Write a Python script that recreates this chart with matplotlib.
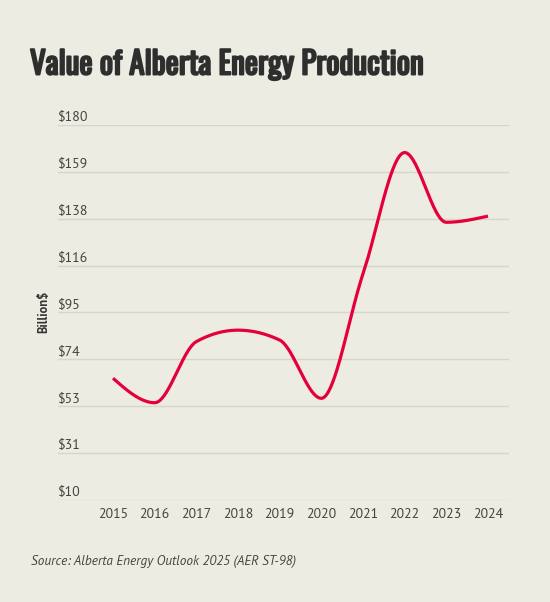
import numpy as np
import matplotlib.pyplot as plt
import matplotlib.patheffects as pe

# chart data (values in billions of dollars)
years = [2015, 2016, 2017, 2018, 2019, 2020, 2021, 2022, 2023, 2024]
values = [65.2, 54.1, 81.8, 87.0, 82.5, 56.1, 112.5, 167.5, 135.9, 138.7]
y_ticks = [10, 31.25, 52.5, 73.75, 95, 116.25, 137.5, 158.75, 180]
y_tick_labels = ['$10', '$31', '$53', '$74', '$95', '$116', '$138', '$159', '$180']

title = "Value of Alberta Energy Production"
y_label = "Billion$"
source = "Source: Alberta Energy Outlook 2025 (AER ST-98)"

BG = '#edece2'
LINE = '#e4003b'
GRID = '#d6d5cc'
TXT = '#444444'
TITLE_FONT = ['Oswald', 'Fira Sans Extra Condensed', 'DejaVu Sans']
BODY_FONT = ['PT Sans', 'Fira Sans', 'DejaVu Sans']


def monotone_x(x, y, n=40):
    # d3-style monotone cubic interpolation, just for drawing the curve
    x = np.asarray(x, float)
    y = np.asarray(y, float)
    h = np.diff(x)
    s = np.diff(y) / h
    t = np.zeros_like(y)
    for i in range(1, len(y) - 1):
        p = (s[i - 1] * h[i] + s[i] * h[i - 1]) / (h[i - 1] + h[i])
        t[i] = (np.sign(s[i - 1]) + np.sign(s[i])) * min(abs(s[i - 1]), abs(s[i]), 0.5 * abs(p))
    t[0] = (3 * s[0] - t[1]) / 2
    t[-1] = (3 * s[-1] - t[-2]) / 2
    xs, ys = [], []
    for i in range(len(x) - 1):
        u = np.linspace(0, 1, n, endpoint=(i == len(x) - 2))
        h00 = 2 * u**3 - 3 * u**2 + 1
        h10 = u**3 - 2 * u**2 + u
        h01 = -2 * u**3 + 3 * u**2
        h11 = u**3 - u**2
        xs.append(x[i] + u * h[i])
        ys.append(h00 * y[i] + h10 * h[i] * t[i] + h01 * y[i + 1] + h11 * h[i] * t[i + 1])
    return np.concatenate(xs), np.concatenate(ys)


W, H = 550, 602
fig = plt.figure(figsize=(W / 100, H / 100), dpi=100, facecolor=BG)

# axes box in pixels: left 58, right 509, top 125 ($180), bottom 500 ($10)
ax = fig.add_axes([58 / W, 1 - 500 / H, (509 - 58) / W, (500 - 125) / H])
ax.set_facecolor(BG)
for sp in ax.spines.values():
    sp.set_visible(False)

px_per_year = (488 - 113) / 9
ax.set_xlim(2015 - (113 - 58) / px_per_year, 2024 + (509 - 488) / px_per_year)
ax.set_ylim(10, 180)

for yt, lab in zip(y_ticks, y_tick_labels):
    ax.axhline(yt, color=GRID, lw=1, zorder=1)
    ax.annotate(lab, xy=(0, yt), xycoords=('axes fraction', 'data'),
                xytext=(0, 0.5), textcoords='offset points',
                ha='left', va='bottom', fontsize=10, color=TXT,
                family=BODY_FONT)

ax.set_yticks([])
ax.set_xticks(years)
ax.set_xticklabels([str(y) for y in years], fontsize=10, color=TXT, family=BODY_FONT)
ax.tick_params(axis='x', length=0, pad=6)

cx, cy = monotone_x(years, values)
ax.plot(cx, cy, color=LINE, lw=2.3, solid_capstyle='butt', zorder=3)

# Oswald is only available in one weight here, so thicken it with a stroke
title_color = '#2e2e2e'
fig.text(30 / W, 1 - 65 / H, title, fontsize=22.5, fontweight='bold',
         family=TITLE_FONT, color=title_color, va='center', ha='left',
         path_effects=[pe.withStroke(linewidth=1.4, foreground=title_color)])
fig.text(44 / W, 1 - 312 / H, y_label, rotation=90, fontsize=9, fontweight='bold',
         family=BODY_FONT, color='#333333', va='center', ha='center')
fig.text(31 / W, 1 - 562 / H, source, fontsize=9.5, style='italic',
         family=BODY_FONT, color='#444444', va='center', ha='left')

fig.savefig('out.png', dpi=100, facecolor=BG)
